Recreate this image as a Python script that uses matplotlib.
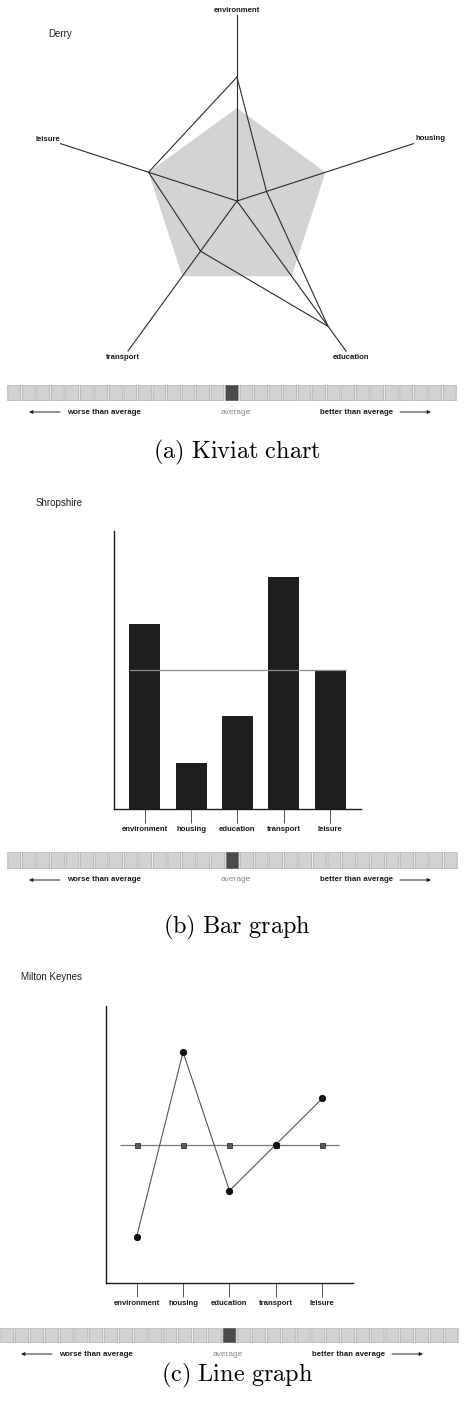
import matplotlib
matplotlib.use("Agg")
import matplotlib.pyplot as plt
import numpy as np

plt.rcParams['font.family'] = ['Liberation Sans', 'DejaVu Sans']
plt.rcParams['mathtext.fontset'] = 'cm'

# data (scale 0..6, average = 3)
categories = ['environment', 'housing', 'education', 'transport', 'leisure']
derry = [4, 1, 5, 2, 3]
shropshire = [4, 1, 2, 5, 3]
milton_keynes = [1, 5, 2, 3, 4]
average = 3
scale_max = 6
kiviat_angles = [90, 18, -54, -126, 162]   # degrees, spoke direction
n_cells = 31
avg_cell = 15

W, H = 474, 1420
fig = plt.figure(figsize=(W / 100, H / 100), dpi=100)


def box(left, top, w, h):
    return [left / W, 1 - (top + h) / H, w / W, h / H]


def ftext(x, y, s, **kw):
    fig.text(x / W, 1 - y / H, s, **kw)


lab_kw = dict(fontsize=5.6, fontweight='bold', color='#1a1a1a', ha='center', va='center')
title_kw = dict(fontsize=7, color='#1e1e1e', ha='left', va='center')


def scale_bar(left, top, width, height, text_y, dx=0):
    ax = fig.add_axes(box(left, top, width, height))
    ax.axhspan(0, 1, color='#ececec', lw=0, zorder=0)
    cols = ['#d2d2d2'] * n_cells
    cols[avg_cell] = '#4a4a4a'
    ax.bar(np.arange(n_cells), 1, width=0.88, color=cols, edgecolor='#ababab',
           linewidth=0.5, snap=False, zorder=1)
    ax.set_xlim(-0.5, n_cells - 0.5)
    ax.set_ylim(0, 1)
    ax.axis('off')
    ftext(67 + dx, text_y, 'worse than average', fontsize=5.7, fontweight='bold',
          color='#1a1a1a', ha='left', va='center')
    ftext(236 + dx, text_y, 'average', fontsize=6, color='#888888', ha='center', va='center')
    ftext(320 + dx, text_y, 'better than average', fontsize=5.7, fontweight='bold',
          color='#1a1a1a', ha='left', va='center')
    ap = dict(arrowstyle='-|>', lw=0.7, color='#222222', mutation_scale=5, shrinkA=0, shrinkB=0)
    ax.annotate('', xy=((29 + dx) / W, 1 - text_y / H), xytext=((60 + dx) / W, 1 - text_y / H),
                xycoords='figure fraction', textcoords='figure fraction',
                arrowprops=ap, annotation_clip=False)
    ax.annotate('', xy=((431 + dx) / W, 1 - text_y / H), xytext=((400 + dx) / W, 1 - text_y / H),
                xycoords='figure fraction', textcoords='figure fraction',
                arrowprops=ap, annotation_clip=False)


# ---------- (a) Kiviat chart ----------
axk = fig.add_axes(box(51, 15, 372, 372), projection='polar')
th = np.deg2rad(kiviat_angles)
th_c = np.append(th, th[0])
axk.fill(th_c, [average] * 6, color='#d3d3d3', lw=0, zorder=1)
for t in th:
    axk.plot([t, t], [0, scale_max], color='#2b2b2b', lw=0.8, zorder=2)
axk.plot(th_c, derry + derry[:1], color='#2b2b2b', lw=0.8, zorder=3)
axk.set_ylim(0, scale_max)
axk.axis('off')
label_r = [6.15, 6.55, 6.25, 6.25, 6.4]
for t, r, c in zip(th, label_r, categories):
    axk.text(t, r, c, **lab_kw)
ftext(48, 34, 'Derry', **title_kw)

scale_bar(7, 385, 450, 16, 412)
ftext(237, 452, r'$\mathrm{(a)\ Kiviat\ chart}$', fontsize=17.5, ha='center', va='center')


def setup_axes(ax):
    for s in ['top', 'right']:
        ax.spines[s].set_visible(False)
    for s in ['left', 'bottom']:
        ax.spines[s].set_color('#1a1a1a')
        ax.spines[s].set_linewidth(1.0)
    ax.set_xlim(-0.66, 4.66)
    ax.set_ylim(0, scale_max)
    ax.set_yticks([])
    ax.set_xticks(range(len(categories)))
    ax.set_xticklabels(categories, fontsize=5.6, fontweight='bold', color='#1a1a1a')
    ax.tick_params(axis='x', length=10, width=0.7, color='#555555', pad=2)


# ---------- (b) Bar graph ----------
axb = fig.add_axes(box(114, 531, 247, 278))
x = np.arange(len(categories))
axb.bar(x, shropshire, width=0.67, color='#1e1e1e', zorder=2)
axb.hlines(average, -0.335, 4.335, color='#8c8c8c', lw=0.9, zorder=3)
setup_axes(axb)
ftext(36, 503, 'Shropshire', **title_kw)

scale_bar(7, 852, 451, 17, 880)
ftext(237, 927, r'$\mathrm{(b)\ Bar\ graph}$', fontsize=17.5, ha='center', va='center')

# ---------- (c) Line graph ----------
axl = fig.add_axes(box(106, 1006, 247, 277))
axl.hlines(average, -0.35, 4.35, color='#777777', lw=0.9, zorder=1)
axl.plot(x, milton_keynes, color='#555555', lw=0.8, zorder=2)
axl.plot(x, [average] * len(x), ls='none', marker='s', ms=3.6, mfc='#5a5a5a',
         mec='#222222', mew=0.5, zorder=3)
axl.plot(x, milton_keynes, ls='none', marker='o', ms=4.2, color='#111111', zorder=4)
setup_axes(axl)
ftext(21, 977, 'Milton Keynes', **title_kw)

scale_bar(0, 1328, 459, 15, 1354, dx=-8)
ftext(237, 1375, r'$\mathrm{(c)\ Line\ graph}$', fontsize=17.5, ha='center', va='center')

fig.savefig('out.png', dpi=100)
